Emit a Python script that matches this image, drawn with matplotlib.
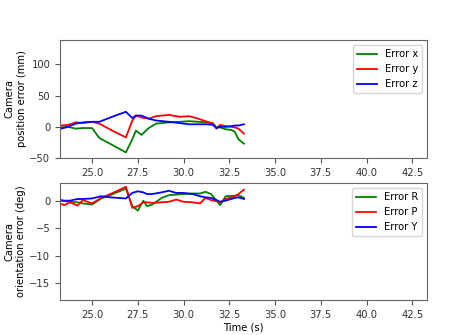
import matplotlib
matplotlib.use("Agg")
import matplotlib.pyplot as plt

# position error samples (mm)
t_pos = [23.3, 23.7, 24.1, 24.5, 25.0, 25.4, 26.1, 26.85, 27.2, 27.4, 27.7, 28.1, 28.5,
         29.2, 29.8, 30.3, 30.8, 31.3, 31.6, 31.8, 32.0, 32.3, 32.6, 32.8, 33.0, 33.3]
err_x = [-1, 0, -3, -2, -2, -18, -29, -41, -20, -6, -13, -2, 5,
         7, 8, 9, 8, 7, 6, -1, -1, -4, -5, -8, -20, -27]
err_y = [2, 3, 7, 6, 8, 5, -6, -17, 10, 18, 15, 13, 17,
         19, 16, 17, 13, 8, 5, -3, 3, 1, 0, -1, -3, -11]
err_z = [-3, 0, 5, 7, 8, 8, 16, 24, 14, 18, 18, 13, 10,
         8, 6, 4, 4, 4, 3, -2, 0, 0, 1, 2, 2, 4]

# orientation error samples (deg)
t_ori = [23.3, 23.5, 23.8, 24.2, 24.5, 25.0, 25.5, 26.0, 26.85, 27.2, 27.5, 27.8, 28.0,
         28.3, 28.8, 29.2, 29.6, 30.0, 30.5, 30.9, 31.2, 31.5, 31.8, 32.0, 32.3, 32.8, 33.0, 33.3]
err_r = [0.0, -0.1, -0.2, -0.3, -0.5, -0.7, 0.4, 1.0, 2.2, -1.0, -1.8, 0.0, -1.0,
         -0.7, 0.5, 1.0, 1.1, 1.2, 1.3, 1.3, 1.6, 1.2, 0.0, -0.8, 0.8, 0.9, 1.0, 0.5]
err_p = [-0.6, -0.8, -0.3, -0.9, 0.1, -0.5, 0.5, 1.2, 2.5, -1.3, -1.0, -0.3, -0.3,
         -0.4, -0.3, -0.2, 0.2, -0.2, -0.3, -0.5, 0.5, 0.1, -0.1, -0.3, 0.3, 0.8, 1.2, 2.0]
err_yaw = [0.1, 0.0, 0.0, 0.3, 0.3, 0.4, 0.8, 0.6, 0.4, 1.4, 1.7, 1.5, 1.2,
           1.2, 1.5, 1.8, 1.4, 1.4, 1.2, 0.8, 0.6, 0.5, 0.1, -0.2, 0.0, 0.5, 0.6, 0.3]

plt.rcParams['font.size'] = 7.2
plt.rcParams['lines.linewidth'] = 1.3

fig = plt.figure(figsize=(4.74, 3.35), dpi=100)
ax1 = fig.add_axes([60/474, 1-158/335, 367/474, 118/335])
ax2 = fig.add_axes([60/474, 1-300/335, 367/474, 117/335])

ax1.plot(t_pos, err_x, color='g', label='Error x')
ax1.plot(t_pos, err_y, color='r', label='Error y')
ax1.plot(t_pos, err_z, color='b', label='Error z')
ax1.set_xlim(23.25, 43.3)
ax1.set_ylim(-50, 139)
ax1.set_yticks([-50, 0, 50, 100])
ax1.set_ylabel('Camera\nposition error (mm)', labelpad=2)
ax1.legend(loc='upper right')

ax2.plot(t_ori, err_r, color='g', label='Error R')
ax2.plot(t_ori, err_p, color='r', label='Error P')
ax2.plot(t_ori, err_yaw, color='b', label='Error Y')
ax2.set_xlim(23.25, 43.3)
ax2.set_ylim(-18, 3.2)
ax2.set_yticks([-15, -10, -5, 0])
ax2.set_xlabel('Time (s)', labelpad=2)
ax2.set_ylabel('Camera\norientation error (deg)', labelpad=2)
ax2.legend(loc='upper right')

for ax in (ax1, ax2):
    ax.set_xticks([25, 27.5, 30, 32.5, 35, 37.5, 40, 42.5])
    ax.tick_params(color='#555555', labelcolor='#333333')
    for s in ax.spines.values():
        s.set_color('#666666')

fig.savefig('out.png', dpi=100)
